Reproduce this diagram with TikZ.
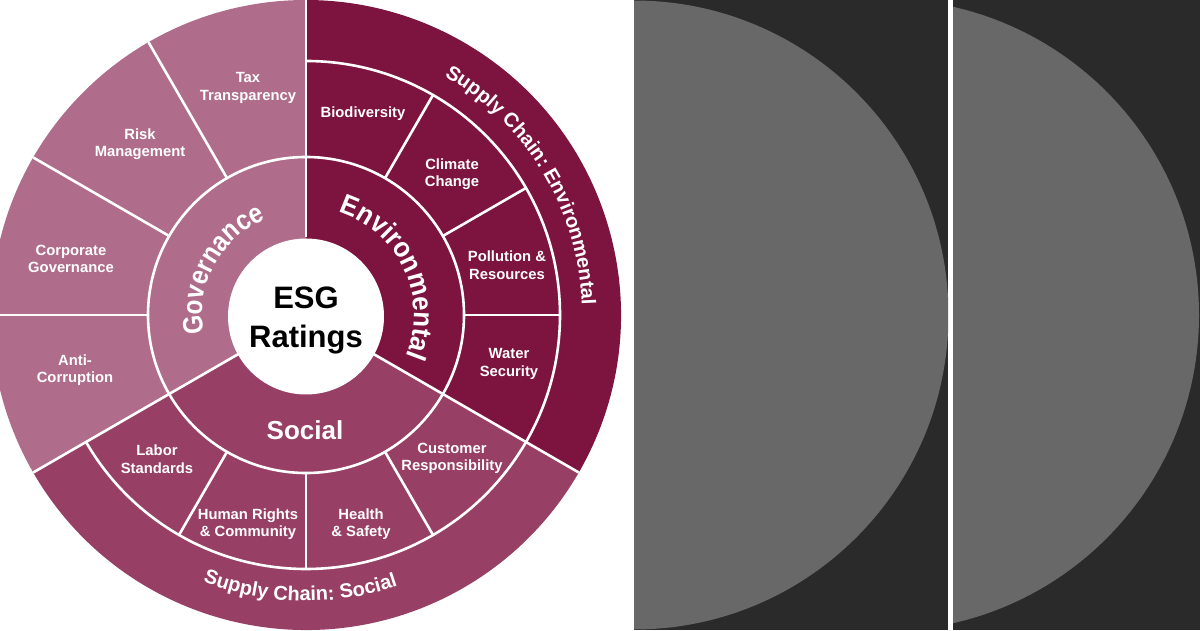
\documentclass[tikz,border=0pt]{standalone}
\usepackage{fontspec}
\setmainfont{Liberation Sans}
\newfontfamily\govfam[FakeStretch=0.87]{Liberation Sans}
\newfontfamily\envfam[FakeStretch=0.92]{Liberation Sans}
\usetikzlibrary{decorations.text}
\definecolor{envc}{HTML}{7D133F}
\definecolor{socc}{HTML}{973F65}
\definecolor{govc}{HTML}{AF6D8B}
\definecolor{darkp}{HTML}{2A2A2A}
\definecolor{greyp}{HTML}{686868}
\newcommand{\ringfont}{\bfseries\fontsize{20}{20}\selectfont}
\newcommand{\bigfont}{\envfam\bfseries\fontsize{28}{28}\selectfont}
\newcommand{\govfont}{\govfam\bfseries\fontsize{28}{28}\selectfont}
\tikzset{
  sep/.style={draw=white,line width=2.6pt},
  thinsep/.style={draw=white,line width=1.8pt},
  lab/.style={text=white,font=\bfseries\fontsize{14.8}{17.5}\selectfont,align=center,inner sep=0pt},
  hublab/.style={text=black,font=\bfseries\fontsize{31}{39}\selectfont,align=center,inner sep=0pt},
  biglab/.style={text=white,font=\bfseries\fontsize{26}{26}\selectfont,inner sep=0pt},
}
\begin{document}
\begin{tikzpicture}[x=1pt,y=1pt]
\useasboundingbox (0,0) rectangle (1200,630);
\clip (0,0) rectangle (1200,630);
% right panels
\fill[darkp] (634,0) rectangle (948,630);
\fill[darkp] (953,0) rectangle (1200,630);
\begin{scope}
\clip (634,0) rectangle (948,630);
\fill[greyp] (634,315) circle (314.5);
\end{scope}
\begin{scope}
\clip (953,0) rectangle (1200,630);
\fill[greyp] (883,315) circle (316);
\end{scope}
% wheel
\begin{scope}[shift={(306,315)}]
\coordinate (O) at (0,0);
\fill[envc] (O) -- (-30:315) arc[start angle=-30,end angle=90,radius=315] -- cycle;
\fill[socc] (O) -- (210:315) arc[start angle=210,end angle=330,radius=315] -- cycle;
\fill[govc] (O) -- (90:315) arc[start angle=90,end angle=210,radius=315] -- cycle;
% ring outlines
\draw[sep] (90:254) arc[start angle=90,end angle=-150,radius=254];
\draw[sep] (0,0) circle (158);
% pillar boundaries
\draw[sep] (-30:78) -- (-30:315);
\draw[sep] (210:78) -- (210:315);
\draw[thinsep] (90:78) -- (90:316);
% spokes
\foreach \a in {60,30,0,-60,-90,-120}
  \draw[sep] (\a:158) -- (\a:254);
\foreach \a in {120,150,180}
  \draw[sep] (\a:158) -- (\a:315);
% hub
\node[circle,fill=white,minimum size=156pt,inner sep=0pt] (hub) at (0,-1.5) {};
\node[hublab] (hubtxt) at (0,-5.5) {ESG\\Ratings};
% curved labels
\path[decorate,decoration={text along path,text align=center,
  text={|\ringfont\color{white}|Supply Chain: Environmental}}]
  (70:276) arc[start angle=70,end angle=-8,radius=276];
\path[decorate,decoration={text along path,text align=center,
  text={|\ringfont\color{white}|Supply Chain: Social}}]
  (233.8:286) arc[start angle=233.8,end angle=303.8,radius=286];
\path[decorate,decoration={text along path,text align=center,
  text={|\bigfont\color{white}|Environmental}}]
  (84:108) arc[start angle=84,end angle=-34,radius=108];
\path[decorate,decoration={text along path,text align=center,
  text={|\govfont\color{white}|Governance}}]
  (203.7:104) arc[start angle=203.7,end angle=99.7,radius=104];
\node[biglab] (social) at (-1,-115) {Social};
% environmental
\node[lab] (bio) at (57,201) {Biodiversity};
\node[lab] (cli) at (146,141) {Climate\\Change};
\node[lab] (pol) at (201,50) {Pollution \&\\Resources};
\node[lab] (wat) at (203,-49) {Water\\Security};
% social
\node[lab] (cus) at (146,-143.5) {Customer\\Responsibility};
\node[lab] (hea) at (55,-209) {Health\\\& Safety};
\node[lab] (hum) at (-58,-209) {Human Rights\\\& Community};
\node[lab] (lab1) at (-149,-144) {Labor\\Standards};
% governance
\node[lab] (ant) at (-231,-55) {Anti-\\Corruption};
\node[lab] (cor) at (-235,56) {Corporate\\Governance};
\node[lab] (ris) at (-166,171) {Risk\\Management};
\node[lab] (tax) at (-58,227) {Tax\\Transparency};
\end{scope}
\end{tikzpicture}
\end{document}
